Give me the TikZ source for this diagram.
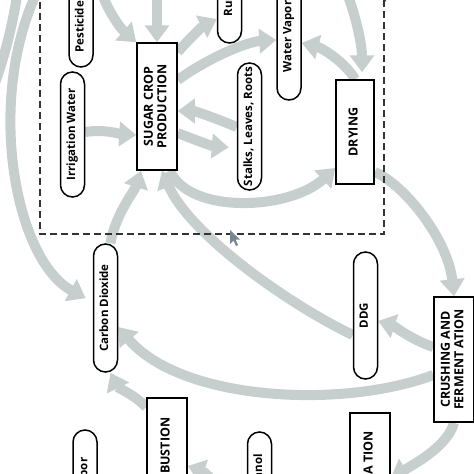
\documentclass[tikz,border=0pt]{standalone}
\usepackage{fontspec}
\setsansfont{Open Sans}
\usepackage{tikz}
\usetikzlibrary{positioning,arrows.meta,backgrounds}
\definecolor{flowgray}{RGB}{198,207,205}
\newcommand{\vlabel}[1]{\rotatebox{90}{\begin{tabular}{@{}c@{}}#1\end{tabular}}}

\begin{document}
\begin{tikzpicture}[x=1pt,y=-1pt,
    proc/.style={draw,line width=1.5pt,fill=white,minimum width=40pt,minimum height=125pt,inner sep=0pt,font=\sffamily\bfseries\fontsize{12.5}{13.5}\selectfont},
    pill/.style={draw,line width=1.5pt,fill=white,rounded corners=12pt,minimum width=24pt,minimum height=127pt,inner sep=0pt,font=\sffamily\bfseries\fontsize{11.5}{12}\selectfont},
    flow/.style={draw=flowgray,line width=10pt,-{Triangle[width=24pt,length=17pt]}}]
  \useasboundingbox (0,0) rectangle (474,474);
  \begin{scope}[overlay]
  \clip (0,0) rectangle (474,474);
  \node[proc,minimum height=127pt] (SCP) at (157,106.5) {\vlabel{SUGAR CROP\\PRODUCTION}};
  \node[pill,on grid,below left=28pt and 84.5pt of SCP,minimum height=125pt] (IW) {\vlabel{Irrigation Water}};
  \node[pill,on grid,above left=82.5pt and 76pt of SCP,minimum height=86pt] (Pest) {\vlabel{Pesticides}};
  \node[pill,on grid,above right=109.5pt and 72.5pt of SCP,minimum height=92pt] (Runoff) {\vlabel{Runoff}};
  \node[pill,on grid,above right=70pt and 132pt of SCP] (WV1) {\vlabel{Water Vapor}};
  \node[pill,on grid,below right=20pt and 92.5pt of SCP] (SLR) {\vlabel{Stalks, Leaves, Roots}};
  \node[proc,on grid,below right=25.5pt and 198pt of SCP,minimum width=38pt,minimum height=104pt] (Dry) {\vlabel{DRYING}};
  \node[pill,on grid,below left=201.5pt and 51.5pt of SCP,minimum height=128pt] (CO2) {\vlabel{Carbon Dioxide}};
  \node[proc,on grid,below right=152.5pt and 61.5pt of CO2] (Comb) {\vlabel{COMBUSTION}};
  \node[pill,on grid,below left=33pt and 82pt of Comb] (WV2) {\vlabel{Water Vapor}};
  \node[pill,on grid,below right=15.5pt and 92.5pt of Comb,minimum height=88pt] (Eth) {\vlabel{Ethanol}};
  \node[proc,on grid,below right=227.5pt and 99pt of Dry] (Crush) {\vlabel{CRUSHING AND\\FERMENT ATION}};
  \node[pill,on grid,above left=44pt and 88.5pt of Crush] (DDG) {\vlabel{DDG}};
  \node[proc,on grid,below left=116pt and 84pt of Crush] (Dist) {\vlabel{DISTILLA TION}};
  \coordinate (fromtop1) at (100,-12);
  \coordinate (fromtop2) at (157,-12);
  \coordinate (fromtop3) at (345,-12);
  \coordinate (fromtop4) at (38,-10);
  \coordinate (fromtop5) at (18,-10);
  \coordinate (offleft) at (-25,130);
  \draw[dash pattern=on 7pt off 4pt,line width=1.1pt,draw=black!80] (40,-20) rectangle (384,234);
  \draw[line width=0.9pt,draw=black!80] (383,5) -- (386,-1);
  \begin{scope}[on background layer]
    \clip (0,0) rectangle (474,474);
    \draw[flow] (IW.east |- 0,132) .. controls (105,129) and (120,134) .. (SCP.west |- 0,135);
    \draw[flow] (fromtop1) .. controls (106,8) and (120,28) .. (SCP.north west);
    \draw[flow] (fromtop2) .. controls (157,10) and (157,25) .. (SCP.north);
    \draw[flow] (SCP.east |- 0,52) .. controls (190,38) and (203,26) .. (Runoff.west |- 0,19);
    \draw[flow] (SCP.east |- 0,80) .. controls (205,60) and (245,42) .. (WV1.west |- 0,40);
    \draw[flow] (SLR.west |- 0,127) .. controls (215,118) and (195,111) .. (SCP.east |- 0,111);
    \draw[flow,shorten >=8pt] (SCP.east |- 0,133) .. controls (195,140) and (212,146) .. (SLR.west |- 0,148);
    \draw[flow] ([xshift=-8pt]SCP.south east) .. controls (190,215) and (290,210) .. (Dry.west |- 0,168);
    \draw[flow] (Dry.north) .. controls (345,62) and (322,48) .. (WV1.east |- 0,43);
    \draw[flow,shorten >=7pt] (fromtop3) .. controls (356,15) and (362,45) .. ([xshift=7pt]Dry.north);
    \draw[flow] (Dry.east |- 0,172) .. controls (405,185) and (448,240) .. (Crush.north);
    \draw[flow] (Crush.west |- 0,347) .. controls (412,340) and (394,326) .. (DDG.east |- 0,321);
    \draw[flow] (DDG.west |- 0,335) .. controls (290,305) and (190,235) .. ([xshift=5pt]SCP.south);
    \draw[flow] ([xshift=5pt]CO2.north) .. controls (115,215) and (135,190) .. ([xshift=-16pt]SCP.south);
    \draw[flow] (Crush.west |- 0,375) .. controls (340,410) and (180,400) .. (CO2.east |- 0,327);
    \draw[flow] ([yshift=-10pt]Comb.north west) .. controls (135,395) and (118,388) .. ([xshift=5pt]CO2.south);
    \draw[flow] (Eth.west |- 0,500) .. controls (225,495) and (205,472) .. (Comb.east |- 0,466);
    \draw[flow] (Crush.south) .. controls (448,445) and (418,462) .. (Dist.east |- 0,478);
    \draw[flow,shorten >=8pt] (fromtop4) .. controls (-15,100) and (15,260) .. (CO2.west |- 0,302);
    \draw[flow,-] (fromtop5) .. controls (12,30) and (0,80) .. (offleft);
  \end{scope}
  \fill[fill={rgb,255:red,120;green,135;blue,145}] (230,230) -- (230,244) -- (233.5,240.5) -- (236,246) -- (238,245) -- (235.5,239.5) -- (240,239.5) -- cycle;
  \end{scope}
\end{tikzpicture}
\end{document}
